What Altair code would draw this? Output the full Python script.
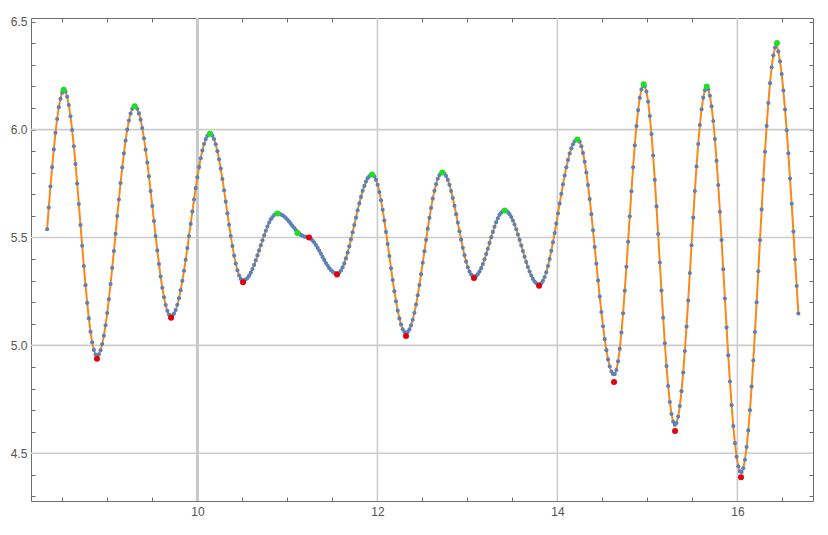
import altair as alt
import pandas as pd

X_START = 8.33
X_STEP = 0.01855
Y_VALUES = [
    5.538, 5.639, 5.736, 5.826, 5.908, 5.985, 6.049, 6.104, 6.143, 6.171, 6.185,
    6.176, 6.152, 6.114, 6.062, 5.998, 5.923, 5.840, 5.750, 5.655, 5.558, 5.462, 5.368, 5.279, 5.197, 5.125, 5.063, 5.014, 4.979, 4.958,
    4.952, 4.959, 4.977, 5.006, 5.045, 5.093, 5.150, 5.214, 5.284, 5.359, 5.437, 5.517, 5.599, 5.676, 5.752, 5.824, 5.890, 5.949, 6.000, 6.042, 6.074, 6.096, 6.107,
    6.106, 6.096, 6.075, 6.046, 6.007, 5.960, 5.907, 5.847, 5.783, 5.715, 5.646, 5.576, 5.507, 5.440, 5.377, 5.319, 5.267, 5.223, 5.187, 5.160, 5.143, 5.135,
    5.138, 5.147, 5.164, 5.188, 5.219, 5.256, 5.299, 5.346, 5.397, 5.451, 5.507, 5.563, 5.620, 5.676, 5.729, 5.779, 5.826, 5.867, 5.903, 5.933, 5.956, 5.971, 5.980,
    5.980, 5.972, 5.956, 5.932, 5.900, 5.862, 5.819, 5.771, 5.719, 5.666, 5.612, 5.559, 5.507, 5.460, 5.416, 5.379, 5.348, 5.324, 5.308, 5.301,
    5.301, 5.305, 5.312, 5.323, 5.337, 5.354, 5.373, 5.394, 5.417, 5.440, 5.464, 5.487, 5.510, 5.531, 5.551, 5.569, 5.584, 5.595, 5.604, 5.609,
    5.611, 5.610, 5.607, 5.603, 5.597, 5.590, 5.582, 5.573, 5.563, 5.553, 5.544, 5.534, 5.526, 5.518, 5.512, 5.508, 5.504, 5.503,
    5.502, 5.499, 5.494, 5.486, 5.477, 5.465, 5.452, 5.439, 5.425, 5.410, 5.396, 5.382, 5.370, 5.358, 5.349, 5.342, 5.336, 5.334,
    5.333, 5.338, 5.347, 5.362, 5.380, 5.403, 5.430, 5.459, 5.491, 5.524, 5.558, 5.592, 5.626, 5.658, 5.688, 5.716, 5.739, 5.759, 5.775, 5.785, 5.791,
    5.791, 5.784, 5.767, 5.744, 5.711, 5.672, 5.628, 5.579, 5.526, 5.470, 5.414, 5.357, 5.303, 5.251, 5.204, 5.161, 5.125, 5.097, 5.075, 5.062,
    5.058, 5.062, 5.074, 5.093, 5.119, 5.151, 5.189, 5.232, 5.280, 5.330, 5.383, 5.436, 5.489, 5.541, 5.591, 5.637, 5.680, 5.716, 5.747, 5.772, 5.789, 5.799,
    5.801, 5.796, 5.785, 5.767, 5.744, 5.715, 5.683, 5.647, 5.608, 5.569, 5.529, 5.490, 5.452, 5.418, 5.388, 5.362, 5.342, 5.328, 5.320,
    5.318, 5.322, 5.330, 5.342, 5.358, 5.377, 5.399, 5.423, 5.448, 5.475, 5.501, 5.526, 5.550, 5.571, 5.589, 5.605, 5.615, 5.622, 5.625,
    5.623, 5.618, 5.608, 5.595, 5.579, 5.560, 5.538, 5.514, 5.489, 5.463, 5.437, 5.411, 5.386, 5.363, 5.342, 5.324, 5.308, 5.296, 5.288, 5.283,
    5.282, 5.288, 5.299, 5.317, 5.339, 5.368, 5.400, 5.438, 5.478, 5.521, 5.565, 5.611, 5.657, 5.702, 5.746, 5.787, 5.825, 5.859, 5.889, 5.913, 5.932, 5.946, 5.953,
    5.953, 5.944, 5.923, 5.892, 5.851, 5.801, 5.743, 5.678, 5.608, 5.533, 5.456, 5.379, 5.301, 5.226, 5.155, 5.089, 5.029, 4.978, 4.935, 4.902, 4.879, 4.867,
    4.867, 4.886, 4.926, 4.984, 5.060, 5.149, 5.253, 5.364, 5.480, 5.598, 5.714, 5.825, 5.927, 6.016, 6.090, 6.147, 6.186, 6.204,
    6.201, 6.176, 6.129, 6.063, 5.979, 5.880, 5.767, 5.644, 5.516, 5.384, 5.254, 5.128, 5.010, 4.904, 4.812, 4.738, 4.682, 4.646, 4.632,
    4.640, 4.670, 4.719, 4.788, 4.874, 4.974, 5.087, 5.208, 5.335, 5.464, 5.592, 5.715, 5.829, 5.933, 6.021, 6.094, 6.148, 6.182, 6.195,
    6.187, 6.157, 6.108, 6.040, 5.956, 5.855, 5.743, 5.619, 5.488, 5.353, 5.217, 5.083, 4.954, 4.833, 4.723, 4.626, 4.547, 4.484, 4.440, 4.416,
    4.413, 4.431, 4.470, 4.529, 4.606, 4.700, 4.809, 4.930, 5.062, 5.200, 5.343, 5.488, 5.630, 5.768, 5.897, 6.017, 6.123, 6.215, 6.289, 6.344, 6.380, 6.395,
    6.362, 6.316, 6.257, 6.181, 6.093, 5.997, 5.890, 5.773, 5.656, 5.528, 5.398, 5.275, 5.148,
]

# local maxima (green) and minima (red)
MAX_X = [8.514, 9.303, 10.14, 10.889, 11.111, 11.94, 12.722, 13.414, 14.222, 14.959, 15.659, 16.44]
MAX_Y = [6.185, 6.108, 5.981, 5.611, 5.521, 5.792, 5.801, 5.625, 5.954, 6.210, 6.200, 6.401]
MIN_X = [8.884, 9.707, 10.507, 11.24, 11.551, 12.318, 13.073, 13.796, 14.629, 15.307, 16.04]
MIN_Y = [4.938, 5.128, 5.293, 5.500, 5.329, 5.043, 5.312, 5.276, 4.830, 4.603, 4.389]

X_GRID = [10, 12, 14, 16]
Y_GRID = [4.5, 5.0, 5.5, 6.0]
AXIS_LINE_X = [10]
X_TICKS = [8.5, 9.0, 9.5, 10.0, 10.5, 11.0, 11.5, 12.0, 12.5, 13.0, 13.5, 14.0, 14.5, 15.0, 15.5, 16.0, 16.5]
Y_TICKS = [4.3, 4.4, 4.5, 4.6, 4.7, 4.8, 4.9, 5.0, 5.1, 5.2, 5.3, 5.4, 5.5, 5.6, 5.7, 5.8, 5.9,
           6.0, 6.1, 6.2, 6.3, 6.4, 6.5]
X_DOMAIN = [8.151, 16.84]
Y_DOMAIN = [4.279, 6.517]

series = pd.DataFrame({
    "x": [X_START + i * X_STEP for i in range(len(Y_VALUES))],
    "y": Y_VALUES,
})
maxima = pd.DataFrame({"x": MAX_X, "y": MAX_Y})
minima = pd.DataFrame({"x": MIN_X, "y": MIN_Y})

xs = alt.Scale(domain=X_DOMAIN, nice=False, zero=False)
ys = alt.Scale(domain=Y_DOMAIN, nice=False, zero=False)

TICK_COLOR = "#6e6e6e"
LABEL_COLOR = "#555555"
FONT = "Liberation Sans"

common_axis = dict(domain=False, grid=False, title=None, tickColor=TICK_COLOR,
                   tickWidth=1, tickSize=4, offset=-4, labelOverlap=False,
                   labelFlush=False, labelFont=FONT, labelFontSize=12,
                   labelColor=LABEL_COLOR)

x_bottom = alt.Axis(orient="bottom", values=X_TICKS, labelPadding=5,
                    labelExpr="datum.value % 2 === 0 ? format(datum.value, 'd') : ''",
                    **common_axis)
y_left = alt.Axis(orient="left", values=Y_TICKS, labelPadding=4,
                  labelExpr="abs(datum.value * 2 - round(datum.value * 2)) < 0.001 ? format(datum.value, '.1f') : ''",
                  **common_axis)
x_top = alt.Axis(orient="top", values=X_TICKS, labels=False, **common_axis)
y_right = alt.Axis(orient="right", values=Y_TICKS, labels=False, **common_axis)

xgrid = alt.Chart(pd.DataFrame({"v": X_GRID})).mark_rule(
    color="#cccccc", strokeWidth=1.6
).encode(x=alt.X("v:Q", scale=xs, axis=None))

ygrid = alt.Chart(pd.DataFrame({"v": Y_GRID})).mark_rule(
    color="#cccccc", strokeWidth=1.6
).encode(y=alt.Y("v:Q", scale=ys, axis=None))

axis_line = alt.Chart(pd.DataFrame({"v": AXIS_LINE_X})).mark_rule(
    color="#c8c8c8", strokeWidth=3
).encode(x=alt.X("v:Q", scale=xs, axis=None))

line = alt.Chart(series).mark_line(color="#F7891A", strokeWidth=2).encode(
    x=alt.X("x:Q", scale=xs, axis=x_bottom),
    y=alt.Y("y:Q", scale=ys, axis=y_left),
)

dots = alt.Chart(series).mark_circle(color="#5E81B5", opacity=1, size=17).encode(
    x=alt.X("x:Q", scale=xs, axis=x_top),
    y=alt.Y("y:Q", scale=ys, axis=y_right),
)

greens = alt.Chart(maxima).mark_circle(color="#1FE01F", opacity=1, size=36).encode(
    x=alt.X("x:Q", scale=xs, axis=None),
    y=alt.Y("y:Q", scale=ys, axis=None),
)

reds = alt.Chart(minima).mark_circle(color="#E3000F", opacity=1, size=36).encode(
    x=alt.X("x:Q", scale=xs, axis=None),
    y=alt.Y("y:Q", scale=ys, axis=None),
)

chart = alt.layer(xgrid, ygrid, axis_line, line, dots, greens, reds).resolve_axis(
    x="independent", y="independent"
).properties(
    width=782, height=483,
    autosize=alt.AutoSizeParams(type="none"),
    padding={"left": 23, "top": 10, "right": 7, "bottom": 22},
).configure_view(stroke=TICK_COLOR, strokeWidth=1)

chart.save("out.html", embed_options={"renderer": "svg", "actions": False})
